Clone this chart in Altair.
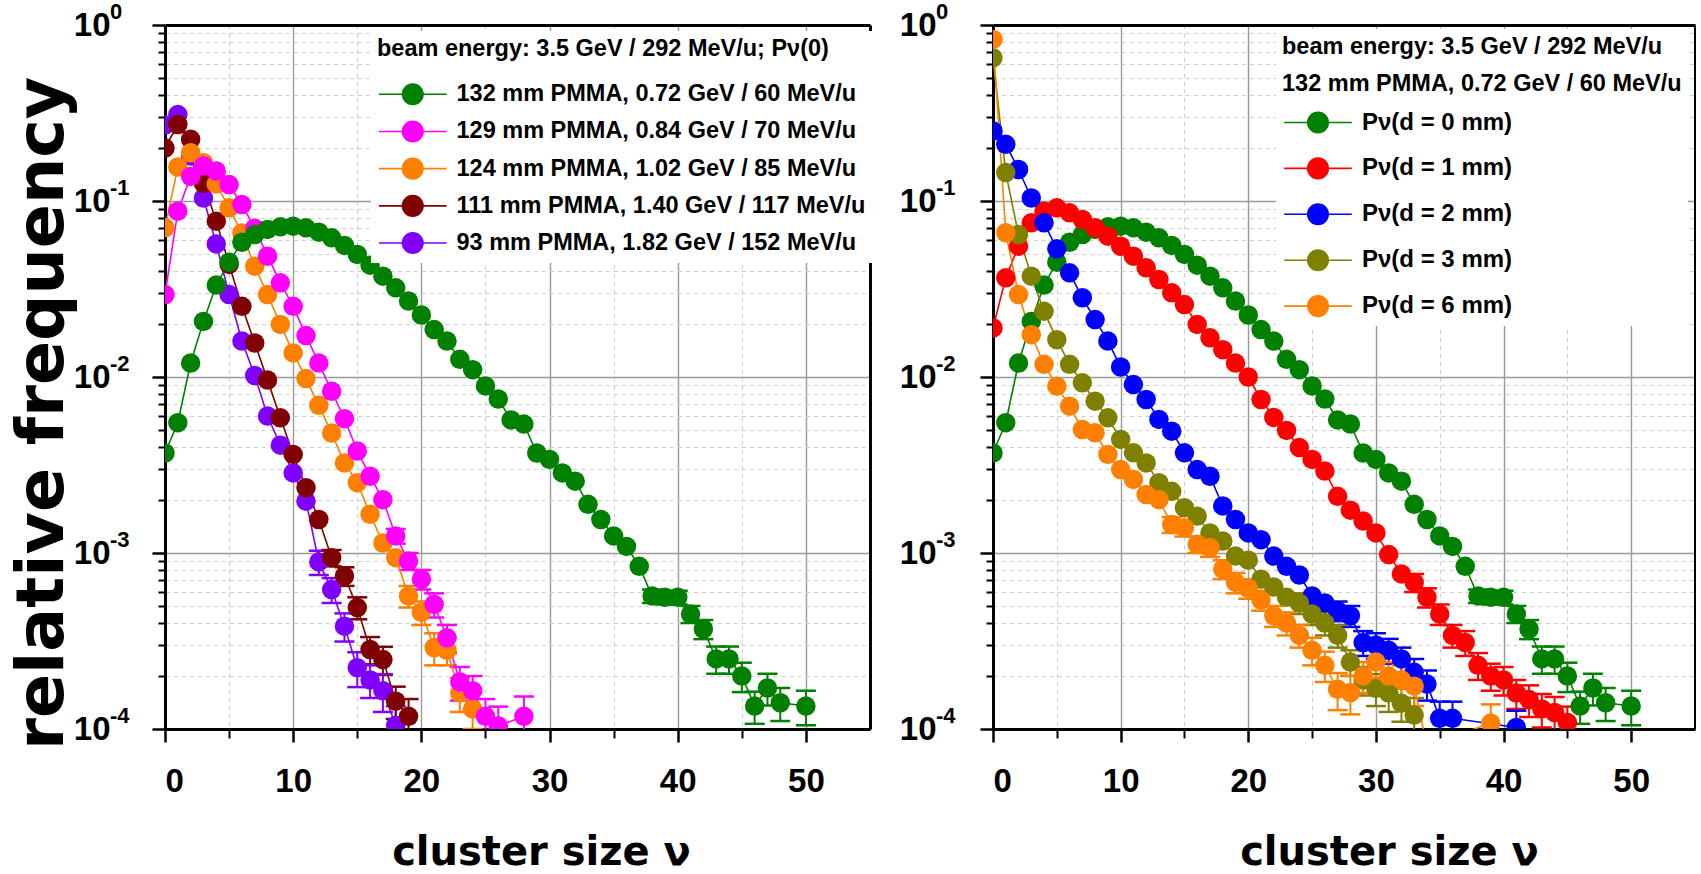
import altair as alt
import pandas as pd

# ---------------------------------------------------------------------------
# Axis ranges and tick labels
# ---------------------------------------------------------------------------
X_MAX = 55
X_MAJOR = [0, 10, 20, 30, 40, 50]
X_MINOR = [5, 15, 25, 35, 45]
Y_MAJOR = [1e-4, 1e-3, 1e-2, 1e-1, 1.0]
Y_TICK_BASE = "10"
Y_TICK_EXP = ["-4", "-3", "-2", "-1", "0"]
Y_MINOR = [k * 10.0 ** e for e in (-4, -3, -2, -1) for k in range(2, 10)]

# ---------------------------------------------------------------------------
# Cluster-size distributions (relative frequency vs cluster size nu)
# ---------------------------------------------------------------------------
# 132 mm PMMA, 0.72 GeV / 60 MeV/u  (also P_nu(d = 0 mm) on the right)
G_NU = list(range(0, 49)) + [50]
G_P = [0.0037, 0.0055, 0.0120, 0.0207, 0.0333, 0.0449, 0.0583, 0.0645, 0.0689, 0.0713,
       0.0719, 0.0704, 0.0665, 0.0618, 0.0559, 0.0497, 0.0432, 0.0374, 0.0321, 0.0270,
       0.0225, 0.0186, 0.0160, 0.0126, 0.0110, 0.0089, 0.0075, 0.0057, 0.0054, 0.0037,
       0.0034, 0.00285, 0.00256, 0.00189, 0.00155, 0.00125, 0.00109, 0.00084, 0.00057, 0.00056,
       0.00056, 0.00045, 0.00037, 0.00025, 0.00025, 0.00020, 0.000135, 0.000171, 0.000141,
       0.000135]
G_ERR = {38: 5e-5, 39: 5e-5, 40: 5e-5, 41: 5e-5, 42: 4.6e-5, 43: 4.4e-5, 44: 4.4e-5,
         45: 3.8e-5, 46: 2.8e-5, 47: 3.5e-5, 48: 3e-5, 50: 3e-5}

# 129 mm PMMA, 0.84 GeV / 70 MeV/u
M_NU = list(range(0, 27)) + [28]
M_P = [0.0294, 0.0875, 0.138, 0.158, 0.148, 0.124, 0.0955, 0.070, 0.0486, 0.0343,
       0.0252, 0.0172, 0.0120, 0.0083, 0.0058, 0.0038, 0.00273, 0.00201, 0.00125, 0.00090,
       0.00071, 0.00051, 0.00033, 0.000185, 0.000165, 0.000118, 0.000104, 0.000118]
M_ERR = {18: 1.2e-4, 19: 1e-4, 20: 9e-5, 21: 8e-5, 22: 6e-5, 23: 4e-5, 24: 3.5e-5,
         25: 3e-5, 26: 3e-5, 28: 3.5e-5}

# 124 mm PMMA, 1.02 GeV / 85 MeV/u
O_NU = list(range(0, 25))
O_P = [0.0704, 0.156, 0.188, 0.165, 0.125, 0.0915, 0.0659, 0.0426, 0.0294, 0.0199,
       0.0137, 0.0098, 0.0069, 0.0048, 0.00325, 0.00251, 0.00166, 0.00114, 0.00094, 0.00057,
       0.00046, 0.00029, 0.00028, 0.00016, 0.00013]
O_ERR = {19: 8e-5, 20: 7e-5, 21: 6e-5, 22: 5e-5, 23: 3.5e-5, 24: 3e-5}

# 111 mm PMMA, 1.40 GeV / 117 MeV/u
R_NU = list(range(0, 20))
R_P = [0.200, 0.272, 0.224, 0.126, 0.0768, 0.0436, 0.0252, 0.0156, 0.0096, 0.00586,
       0.00363, 0.00235, 0.00155, 0.00094, 0.00074, 0.00049, 0.000283, 0.000248, 0.000144,
       0.000118]
R_ERR = {13: 1e-4, 14: 9e-5, 15: 7e-5, 16: 5e-5, 17: 4.5e-5, 18: 3e-5, 19: 3e-5}

# 93 mm PMMA, 1.82 GeV / 152 MeV/u
V_NU = list(range(0, 19))
V_P = [0.27, 0.31, 0.18, 0.104, 0.057, 0.0294, 0.016, 0.0102, 0.0060, 0.0041,
       0.00285, 0.00197, 0.00089, 0.00062, 0.000384, 0.000223, 0.00019, 0.000165, 0.000105]
V_ERR = {12: 1.4e-4, 13: 1e-4, 14: 7e-5, 15: 5e-5, 16: 4e-5, 17: 4e-5, 18: 3e-5}

# P_nu(d = 1 mm)
D1_NU = list(range(0, 46))
D1_P = [0.0190, 0.0366, 0.0554, 0.0752, 0.0875, 0.0915, 0.0857, 0.0785, 0.0704, 0.0631,
        0.0554, 0.0486, 0.0417, 0.0358, 0.0301, 0.0258, 0.0199, 0.0167, 0.0143, 0.0120,
        0.0100, 0.00745, 0.00589, 0.00497, 0.00397, 0.00340, 0.00292, 0.0021, 0.00175, 0.00152,
        0.0013, 0.00098, 0.00076, 0.00068, 0.00056, 0.00045, 0.00034, 0.00031, 0.00023, 0.00020,
        0.00019, 0.00016, 0.000147, 0.00013, 0.000124, 0.000109]
D1_ERR = {33: 8e-5, 34: 7e-5, 35: 6e-5, 36: 5e-5, 37: 5e-5, 38: 4e-5, 39: 3.5e-5,
          40: 3.5e-5, 41: 3e-5, 42: 3e-5, 43: 2.8e-5, 44: 2.8e-5, 45: 2.5e-5}

# P_nu(d = 2 mm)
D2_NU = list(range(0, 37)) + [41]
D2_P = [0.25, 0.210, 0.151, 0.104, 0.0752, 0.0535, 0.0391, 0.0282, 0.0212, 0.0160,
        0.0114, 0.00906, 0.00745, 0.00574, 0.00492, 0.00371, 0.00298, 0.00273, 0.00185, 0.00155,
        0.00130, 0.00119, 0.00096, 0.00084, 0.00075, 0.00057, 0.00052, 0.00047, 0.00044, 0.00031,
        0.00030, 0.00028, 0.00025, 0.00021, 0.00018, 0.000115, 0.000115, 0.000102]
D2_ERR = {27: 6e-5, 28: 6e-5, 29: 5e-5, 30: 5e-5, 31: 4.5e-5, 32: 4e-5, 33: 4e-5,
          34: 3.5e-5, 35: 2.8e-5, 36: 2.8e-5, 41: 2.5e-5}

# P_nu(d = 3 mm)
D3_NU = list(range(0, 34))
D3_P = [0.651, 0.145, 0.0645, 0.0374, 0.0236, 0.0163, 0.0118, 0.00927, 0.00729, 0.00586,
        0.00442, 0.00371, 0.00325, 0.00251, 0.00224, 0.00181, 0.00162, 0.00130, 0.00117, 0.00096,
        0.00091, 0.00071, 0.00064, 0.00056, 0.00052, 0.00045, 0.00040, 0.00034, 0.00024, 0.00019,
        0.00017, 0.00016, 0.00014, 0.00012]
D3_ERR = {24: 7e-5, 25: 6e-5, 26: 6e-5, 27: 5e-5, 28: 4e-5, 29: 3.5e-5, 30: 3.5e-5,
          31: 3.5e-5, 32: 3e-5, 33: 3e-5}

# P_nu(d = 6 mm)
D6_NU = list(range(0, 35)) + [39]
D6_P = [0.828, 0.066, 0.0294, 0.0174, 0.0118, 0.00887, 0.00683, 0.00503, 0.00482, 0.00363,
        0.00298, 0.00262, 0.00215, 0.00201, 0.00145, 0.00139, 0.00112, 0.00107, 0.00081, 0.00068,
        0.00063, 0.00054, 0.00044, 0.00040, 0.00034, 0.00028, 0.00023, 0.000168, 0.000161, 0.00020,
        0.00024, 0.00020, 0.00019, 0.000175, 0.00008, 0.000108]
D6_ERR = {14: 1.5e-4, 15: 1.5e-4, 16: 1.2e-4, 17: 1.2e-4, 18: 1e-4, 19: 9e-5, 20: 8e-5,
          21: 7e-5, 22: 6e-5, 23: 6e-5, 24: 5e-5, 25: 5e-5, 26: 4.5e-5, 27: 4e-5, 28: 4e-5,
          29: 4e-5, 30: 4.5e-5, 31: 4e-5, 32: 4e-5, 33: 4e-5, 39: 3e-5}

LEFT_NAMES = [
    "132 mm PMMA, 0.72 GeV / 60 MeV/u",
    "129 mm PMMA, 0.84 GeV / 70 MeV/u",
    "124 mm PMMA, 1.02 GeV / 85 MeV/u",
    "111 mm PMMA, 1.40 GeV / 117 MeV/u",
    "\u200793 mm PMMA, 1.82 GeV / 152 MeV/u",
]
LEFT_COLORS = ["#008000", "#ff00ff", "#ff8000", "#800000", "#8000ff"]
LEFT_DATA = [(G_NU, G_P, G_ERR), (M_NU, M_P, M_ERR), (O_NU, O_P, O_ERR),
             (R_NU, R_P, R_ERR), (V_NU, V_P, V_ERR)]
LEFT_TITLE = "beam energy: 3.5 GeV / 292 MeV/u; P\u03bd(0)"

RIGHT_NAMES = ["P\u03bd(d = 0 mm)", "P\u03bd(d = 1 mm)", "P\u03bd(d = 2 mm)",
               "P\u03bd(d = 3 mm)", "P\u03bd(d = 6 mm)"]
RIGHT_COLORS = ["#008000", "#ff0000", "#0000ff", "#808000", "#ff8000"]
RIGHT_DATA = [(G_NU, G_P, G_ERR), (D1_NU, D1_P, D1_ERR), (D2_NU, D2_P, D2_ERR),
              (D3_NU, D3_P, D3_ERR), (D6_NU, D6_P, D6_ERR)]
RIGHT_TITLE = ["beam energy: 3.5 GeV / 292 MeV/u", "132 mm PMMA, 0.72 GeV / 60 MeV/u"]

# ---------------------------------------------------------------------------
# Styling
# ---------------------------------------------------------------------------
TICK_FONT = "Liberation Sans"
TITLE_FONT = "DejaVu Sans"
LEGEND_FONT = "Liberation Sans"
PLOT_H = 704
# legend key: a short line with a filled circle in its middle; the path
# reaches past the unit box so the nominal symbol size stays small
KEY_SIZE = 420
KEY_PATH = "M-3.3,0L3.3,0M-1,0A1,1,0,1,0,1,0A1,1,0,1,0,-1,0Z"


def make_frame(names, data, draw_order):
    rows = []
    for idx in draw_order:
        nu, p, err = data[idx]
        for n, v in zip(nu, p):
            e = err.get(n, 0.0)
            rows.append({"series": names[idx], "nu": n, "p": v,
                         "lo": v - e, "hi": v + e, "err": e})
    return pd.DataFrame(rows)


def panel(names, colors, data, draw_order, legend, width, y_title, x_title_x,
          label_pad, exp_x):
    df = make_frame(names, data, draw_order)
    xs = alt.Scale(domain=[0, X_MAX], nice=False, zero=False)
    ys = alt.Scale(type="log", domain=[1e-4, 1], nice=False)
    cs = alt.Scale(domain=names, range=colors)
    stroke = alt.Stroke("series:N", scale=cs, legend=legend, sort=names)
    fill = alt.Fill("series:N", scale=cs, legend=legend, sort=names)

    x_major = alt.Axis(values=X_MAJOR, format="d", orient="bottom",
                       labelFont=TICK_FONT, labelFontSize=33, labelFontWeight="bold",
                       labelColor="black", labelPadding=23, tickSize=13, tickWidth=2.5,
                       tickColor="black", domainColor="black", domainWidth=3,
                       grid=True, gridColor="#9a9a9a", gridWidth=1.4,
                       title="cluster size \u03bd", titleFont=TITLE_FONT, titleFontSize=40,
                       titleFontWeight="bold", titleColor="black", titlePadding=34,
                       titleX=x_title_x)
    x_minor = alt.Axis(values=X_MINOR, orient="bottom", labels=False, domain=False,
                       tickSize=9, tickWidth=2, tickColor="black",
                       grid=True, gridColor="#cfcfcf", gridWidth=1, gridDash=[4, 4],
                       title=None)
    y_major = alt.Axis(values=Y_MAJOR, orient="left", labelExpr=f"'{Y_TICK_BASE}'",
                       labelFont=TICK_FONT, labelFontSize=33, labelFontWeight="bold",
                       labelColor="black", labelPadding=label_pad, tickSize=13,
                       tickWidth=2.5, tickColor="black", domainColor="black",
                       domainWidth=3, grid=True, gridColor="#9a9a9a", gridWidth=1.4,
                       title=y_title, titleFont=TITLE_FONT, titleFontSize=65,
                       titleFontWeight="bold", titleColor="black",
                       titleX=-123, titleY=388, titleBaseline="middle")
    y_minor = alt.Axis(values=Y_MINOR, orient="left", labels=False, domain=False,
                       tickSize=7, tickWidth=2, tickColor="black",
                       grid=True, gridColor="#cfcfcf", gridWidth=1, gridDash=[4, 4],
                       title=None)
    # closing frame on the top and right sides
    x_top = alt.Axis(orient="top", labels=False, ticks=False, grid=False,
                     domainColor="black", domainWidth=3, title=None)
    y_right = alt.Axis(orient="right", labels=False, ticks=False, grid=False,
                       domainColor="black", domainWidth=3, title=None)

    base = alt.Chart(df)
    errs = base.transform_filter("datum.err > 0")

    frame = base.mark_point(opacity=0).encode(
        x=alt.X("nu:Q", scale=xs, axis=x_top),
        y=alt.Y("p:Q", scale=ys, axis=y_right),
    )
    # raised exponents of the decade labels
    exps = alt.Chart(pd.DataFrame({"v": Y_MAJOR, "e": Y_TICK_EXP})).mark_text(
        align="left", baseline="middle", dy=-13, font=TICK_FONT, fontSize=22,
        fontWeight="bold", color="black",
    ).encode(
        x=alt.value(exp_x),
        y=alt.Y("v:Q", scale=ys, axis=None),
        text="e:N",
    )
    bars = errs.mark_rule(strokeWidth=2, clip=True).encode(
        x=alt.X("nu:Q", scale=xs, axis=None),
        y=alt.Y("lo:Q", scale=ys, axis=None),
        y2="hi:Q",
        stroke=stroke,
    )
    cap_lo = errs.mark_tick(orient="horizontal", size=20, thickness=2.5, clip=True,
                            opacity=1).encode(
        x=alt.X("nu:Q", scale=xs, axis=None),
        y=alt.Y("lo:Q", scale=ys, axis=None),
        fill=fill,
    )
    cap_hi = errs.mark_tick(orient="horizontal", size=20, thickness=2.5, clip=True,
                            opacity=1).encode(
        x=alt.X("nu:Q", scale=xs, axis=None),
        y=alt.Y("hi:Q", scale=ys, axis=None),
        fill=fill,
    )
    lines = base.mark_line(strokeWidth=1.6, clip=True).encode(
        x=alt.X("nu:Q", scale=xs, axis=x_minor),
        y=alt.Y("p:Q", scale=ys, axis=y_minor),
        stroke=stroke,
        detail="series:N",
        order="nu:Q",
    )
    dots = base.mark_point(filled=True, shape="circle", size=380, opacity=1,
                           clip=True).encode(
        x=alt.X("nu:Q", scale=xs, axis=x_major),
        y=alt.Y("p:Q", scale=ys, axis=y_major),
        fill=fill,
    )
    return (alt.layer(frame, exps, bars, cap_lo, cap_hi, lines, dots)
            .resolve_axis(x="independent", y="independent")
            .properties(width=width, height=PLOT_H))


def legend(title, x, y, label_size, title_size, row_pad, title_pad):
    return alt.Legend(
        title=title, orient="none", legendX=x, legendY=y, fillColor="white",
        padding=6, symbolType=KEY_PATH, symbolSize=KEY_SIZE, symbolStrokeWidth=1.6,
        symbolOpacity=1, symbolOffset=24, labelFont=LEGEND_FONT, labelFontSize=label_size,
        labelFontWeight="bold", labelColor="black", labelLimit=0, labelOffset=32,
        titleFont=LEGEND_FONT, titleFontSize=title_size, titleFontWeight="bold",
        titleColor="black", titleLimit=0, titleLineHeight=37, titlePadding=title_pad,
        rowPadding=row_pad,
    )


left = panel(LEFT_NAMES, LEFT_COLORS, LEFT_DATA, [4, 3, 2, 1, 0],
             legend(LEFT_TITLE, 206, 6, 23.5, 23.5, 9.2, 22), 705,
             "relative frequency", 376, 42, -55)
right = panel(RIGHT_NAMES, RIGHT_COLORS, RIGHT_DATA, [0, 1, 2, 3, 4],
              legend(RIGHT_TITLE, 283, 4, 24, 23.5, 17.9, 15), 702, None, 396, 44, -57)

chart = (
    alt.hconcat(left, right, spacing=25)
    .resolve_scale(stroke="independent", fill="independent")
    .properties(padding={"left": 9, "top": 0, "right": 0, "bottom": 0})
    .configure_view(stroke=None)
    .configure(background="white")
)

chart.save("out.html", embed_options={"renderer": "svg", "actions": False})
